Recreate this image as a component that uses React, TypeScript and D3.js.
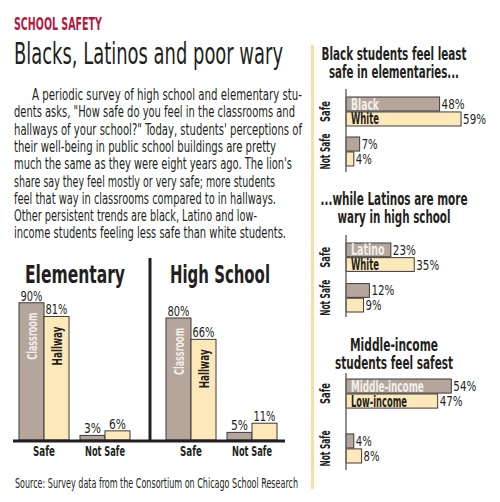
import React from "react";
import * as d3 from "d3";

// ---------- data ----------
const kicker = "SCHOOL SAFETY";
const headline = "Blacks, Latinos and poor wary";
const bodyLines = [
  "A periodic survey of high school and elementary stu-",
  "dents asks, \"How safe do you feel in the classrooms and",
  "hallways of your school?\" Today, students' perceptions of",
  "their well-being in public school buildings are pretty",
  "much the same as they were eight years ago. The lion's",
  "share say they feel mostly or very safe; more students",
  "feel that way in classrooms compared to in hallways.",
  "Other persistent trends are black, Latino and low-",
  "income students feeling less safe than white students.",
];
const source = "Source: Survey data from the Consortium on Chicago School Research";

const groups = ["Safe", "Not Safe"];
const locations = ["Classroom", "Hallway"];
const schoolTitles = ["Elementary", "High School"];
const elementaryClassroom = [90, 3];
const elementaryHallway = [81, 6];
const highClassroom = [80, 5];
const highHallway = [66, 11];

const panelTitles = [
  ["Black students feel least", "safe in elementaries..."],
  ["...while Latinos are more", "wary in high school"],
  ["Middle-income", "students feel safest"],
];
const panelSeries = [
  ["Black", "White"],
  ["Latino", "White"],
  ["Middle-income", "Low-income"],
];
const panelSafe = [
  [48, 59],
  [23, 35],
  [54, 47],
];
const panelNotSafe = [
  [7, 4],
  [12, 9],
  [4, 8],
];

// ---------- style ----------
const COND =
  "'Liberation Sans Narrow','DejaVu Sans Condensed','Roboto Condensed','Open Sans Condensed',Roboto,sans-serif";
const INK = "#231f20";
const GRAY = "#b4a69b";
const CREAM = "#fde8ba";
const STROKE = "#3c3a39";
const RED = "#b31b3e";

// approximate widths (px) of condensed labels, used to squeeze the fallback font
function labelWidth(s: string, perChar: number) {
  return s.length * perChar;
}

export default function App() {
  // left charts
  const axisY = 440;
  const yScale = d3.scaleLinear().domain([0, 100]).range([axisY, axisY - 152.5]);
  const schoolData = [
    [elementaryClassroom, elementaryHallway],
    [highClassroom, highHallway],
  ];
  const groupRanges: [number, number][] = [
    [19, 130],
    [166, 277],
  ];
  const titleX = [75, 220];

  // right panels
  const xScale = d3.scaleLinear().domain([0, 100]).range([0, 195]);
  const panelAxisX = 346;
  const panelLayout = [
    { ty: [60, 78], range: [97, 166] as [number, number], pad: 0.275, axis: [89, 172] },
    { ty: [205, 223], range: [243, 312] as [number, number], pad: 0.3, axis: [235, 317] },
    { ty: [351, 369], range: [379, 463] as [number, number], pad: 0.47, axis: [373, 470] },
  ];

  return (
    <svg width={500} height={502} style={{ position: "absolute", left: 0, top: 0, background: "#fff" }}>
      <rect width={500} height={502} fill="#fff" />
      {/* header */}
      <text x={14} y={30} fontFamily={COND} fontSize={18} fontWeight={600} fill={RED} textLength={88} lengthAdjust="spacingAndGlyphs">
        {kicker}
      </text>
      <text x={14} y={64} fontFamily={COND} fontSize={30} fill={INK} textLength={269} lengthAdjust="spacingAndGlyphs">
        {headline}
      </text>
      {(() => {
        const ends = [302, 295, 302, 276, 292, 275, 276, 257, 286];
        return bodyLines.map((l, i) => {
          const x0 = i === 0 ? 32 : 14;
          return (
            <text key={i} x={x0} y={100 + i * 17.3} fontFamily={COND} fontSize={15.5} fill={INK} textLength={ends[i] - x0} lengthAdjust="spacingAndGlyphs">
              {l}
            </text>
          );
        });
      })()}

      {/* left bar charts */}
      {schoolData.map((series, si) => {
        const gx = d3.scaleBand<string>().domain(groups).range(groupRanges[si]).paddingInner(0.18).paddingOuter(0);
        const sx = d3.scaleBand<string>().domain(locations).range([0, gx.bandwidth()]);
        return (
          <g key={si}>
            <text x={titleX[si]} y={283} textAnchor="middle" fontFamily={COND} fontSize={25} fontWeight={700} fill={INK} textLength={100} lengthAdjust="spacingAndGlyphs">
              {schoolTitles[si]}
            </text>
            {groups.map((g, gi) => (
              <g key={g}>
                {locations.map((loc, li) => {
                  const v = series[li][gi];
                  const x = (gx(g) as number) + (sx(loc) as number);
                  const w = sx.bandwidth();
                  const top = yScale(v);
                  return (
                    <g key={loc}>
                      <rect x={x} y={top} width={w} height={axisY - top} fill={li === 0 ? GRAY : CREAM} stroke={STROKE} strokeWidth={1} />
                      <text x={x + w / 2} y={top - 2} textAnchor="middle" fontFamily={COND} fontSize={14} fill={INK} textLength={v >= 10 ? 22 : 17} lengthAdjust="spacingAndGlyphs">
                        {v}%
                      </text>
                      {gi === 0 && (
                        <text
                          transform={`translate(${x + w / 2 + 5},${top + 10}) rotate(-90)`}
                          textAnchor="end"
                          fontFamily={COND}
                          fontSize={14}
                          fontWeight={700}
                          fill={li === 0 ? "#f3eee9" : INK}
                          textLength={li === 0 ? 47 : 39}
                          lengthAdjust="spacingAndGlyphs"
                        >
                          {loc}
                        </text>
                      )}
                    </g>
                  );
                })}
                <text x={(gx(g) as number) + gx.bandwidth() / 2} y={456} textAnchor="middle" fontFamily={COND} fontSize={14} fontWeight={700} fill={INK} textLength={g === "Safe" ? 22 : 40} lengthAdjust="spacingAndGlyphs">
                  {g}
                </text>
              </g>
            ))}
          </g>
        );
      })}
      <line x1={150} x2={150} y1={258} y2={441} stroke={INK} strokeWidth={3} />
      <line x1={13} x2={285} y1={441} y2={441} stroke={INK} strokeWidth={3} />

      <text x={15} y={488} fontFamily={COND} fontSize={13.5} fill={INK} textLength={283} lengthAdjust="spacingAndGlyphs">
        {source}
      </text>

      {/* right panel */}
      <line x1={312.5} x2={312.5} y1={45} y2={489} stroke="#fbdca3" strokeWidth={3} />
      {panelLayout.map((pl, pi) => {
        const gy = d3.scaleBand<string>().domain(groups).range(pl.range).paddingInner(pl.pad).paddingOuter(0);
        const sy = d3.scaleBand<string>().domain(panelSeries[pi]).range([0, gy.bandwidth()]).paddingInner(0.06);
        const vals = [panelSafe[pi], panelNotSafe[pi]];
        const titleW = [
          [145, 130],
          [147, 113],
          [88, 118],
        ][pi];
        return (
          <g key={pi}>
            {panelTitles[pi].map((t, ti) => (
              <text key={ti} x={394} y={pl.ty[ti]} textAnchor="middle" fontFamily={COND} fontSize={18} fontWeight={700} fill={INK} textLength={titleW[ti]} lengthAdjust="spacingAndGlyphs">
                {t}
              </text>
            ))}
            {groups.map((g, gi) => {
              const cy = (gy(g) as number) + gy.bandwidth() / 2;
              return (
                <g key={g}>
                  <text transform={`translate(${330},${cy}) rotate(-90)`} textAnchor="middle" fontFamily={COND} fontSize={13.5} fontWeight={700} fill={INK} textLength={g === "Safe" ? 21 : 36} lengthAdjust="spacingAndGlyphs">
                    {g}
                  </text>
                  {panelSeries[pi].map((s, si) => {
                    const v = vals[gi][si];
                    const y = (gy(g) as number) + (sy(s) as number);
                    const h = sy.bandwidth();
                    const w = xScale(v);
                    return (
                      <g key={s}>
                        <rect x={panelAxisX} y={y} width={w} height={h} fill={si === 0 ? GRAY : CREAM} stroke={STROKE} strokeWidth={1} />
                        <text x={panelAxisX + w + 2} y={y + h / 2 + 5} fontFamily={COND} fontSize={14.5} fill={INK} textLength={v >= 10 ? 23 : 16} lengthAdjust="spacingAndGlyphs">
                          {v}%
                        </text>
                        {gi === 0 && (
                          <text x={panelAxisX + 5} y={y + h / 2 + 5.5} fontFamily={COND} fontSize={15.5} fontWeight={700} fill={si === 0 ? "#f3eee9" : INK} textLength={labelWidth(s, s.length > 8 ? 5.6 : 5.6)} lengthAdjust="spacingAndGlyphs">
                            {s}
                          </text>
                        )}
                      </g>
                    );
                  })}
                </g>
              );
            })}
            <line x1={panelAxisX} x2={panelAxisX} y1={pl.axis[0]} y2={pl.axis[1]} stroke="#6f6a66" strokeWidth={1.5} />
          </g>
        );
      })}
    </svg>
  );
}
